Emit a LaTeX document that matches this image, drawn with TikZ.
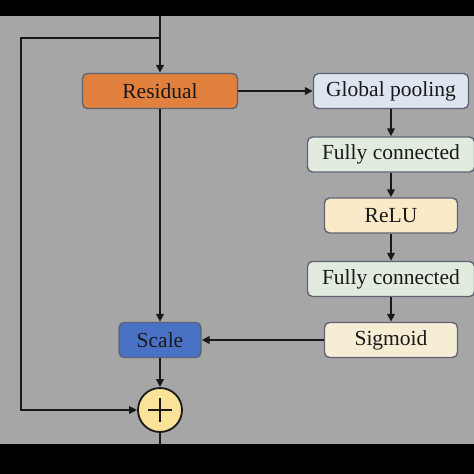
\documentclass[tikz,border=0pt]{standalone}
\usepackage{fontspec}
\setmainfont{Liberation Serif}
\usetikzlibrary{arrows.meta,calc}
\definecolor{bggray}{RGB}{166,166,166}
\definecolor{boxborder}{RGB}{95,100,115}
\definecolor{resorange}{RGB}{226,128,62}
\definecolor{poolblue}{RGB}{221,229,241}
\definecolor{fcgreen}{RGB}{226,236,222}
\definecolor{reluyellow}{RGB}{250,234,200}
\definecolor{sigcream}{RGB}{246,238,212}
\definecolor{scaleblue}{RGB}{74,114,196}
\definecolor{plusyellow}{RGB}{250,226,152}
\tikzset{
  blk/.style={draw=boxborder, line width=1.4pt, rounded corners=5pt, minimum height=35pt, inner sep=0pt, font=\fontsize{21.5}{24}\selectfont, text=black!90},
  conn/.style={line width=2.6pt, black!90},
  arr/.style={conn, -{Triangle[length=8pt,width=7.5pt]}}
}
\begin{document}
\begin{tikzpicture}[x=1pt,y=-1pt]
\useasboundingbox (0,0) rectangle (474,474);
\fill[bggray] (0,0) rectangle (474,474);
\fill[black] (0,0) rectangle (474,16);
\fill[black] (0,444) rectangle (474,474);

\node[blk, fill=resorange, minimum width=155pt] (res) at (160,91) {Residual};
\node[blk, fill=poolblue, minimum width=155pt] (pool) at (391,91) {Global pooling};
\node[blk, fill=fcgreen, minimum width=167pt] (fc1) at (391,154.5) {Fully connected};
\node[blk, fill=reluyellow, minimum width=133pt] (relu) at (391,215.5) {ReLU};
\node[blk, fill=fcgreen, minimum width=167pt] (fc2) at (391,279) {Fully connected};
\node[blk, fill=sigcream, minimum width=133pt] (sig) at (391,340) {Sigmoid};
\node[blk, fill=scaleblue, minimum width=82pt] (scale) at (160,340) {Scale};
\node[circle, draw=black!90, line width=1.8pt, fill=plusyellow, minimum size=44pt, inner sep=0pt] (plus) at (160,410) {};
\draw[line width=2.4pt, black!90] ($(plus.center)+(-12,0)$) -- ($(plus.center)+(12,0)$);
\draw[line width=2.4pt, black!90] ($(plus.center)+(0,-12)$) -- ($(plus.center)+(0,12)$);

\coordinate (top) at (160,16);
\coordinate (split) at (160,38);
\coordinate (lt) at (21,38);
\coordinate (lb) at (21,410);
\coordinate (bot) at (160,444);

\draw[arr] (top) -- (res.north);
\draw[arr] (split) -- (lt) -- (lb) -- (plus.west);
\draw[arr] (res.east) -- (pool.west);
\draw[arr] (pool.south) -- (fc1.north);
\draw[arr] (fc1.south) -- (relu.north);
\draw[arr] (relu.south) -- (fc2.north);
\draw[arr] (fc2.south) -- (sig.north);
\draw[arr] (sig.west) -- (scale.east);
\draw[arr] (res.south) -- (scale.north);
\draw[arr] (scale.south) -- (plus.north);
\draw[conn] (plus.south) -- (bot);
\end{tikzpicture}
\end{document}
